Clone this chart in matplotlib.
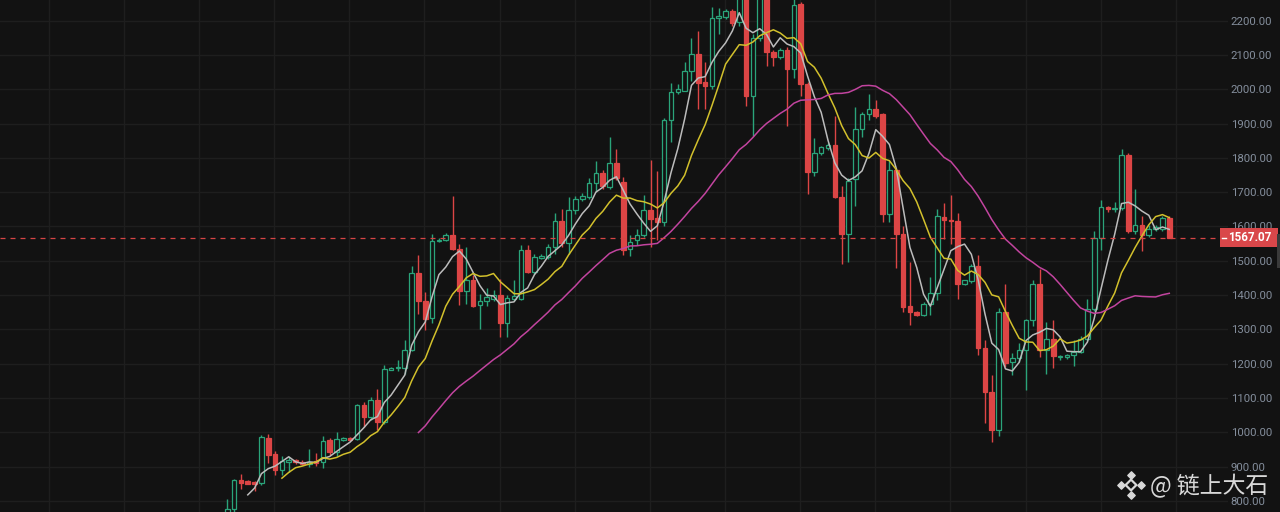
import numpy as np
import pandas as pd
import matplotlib.pyplot as plt
from matplotlib.patches import Rectangle
import matplotlib.transforms as mtransforms

# OHLC, first candle sits just below the visible range
opens = [700, 750, 775, 860, 857, 855, 851, 984, 938, 890, 912, 918, 914, 908, 915, 913, 977, 942, 978, 983,
         980, 1080, 1045, 1095, 1031, 1183, 1186, 1188, 1241, 1464, 1382, 1334, 1557, 1561, 1574, 1535, 1412, 1443, 1371, 1384,
         1390, 1400, 1318, 1390, 1390, 1532, 1467, 1509, 1511, 1540, 1615, 1553, 1649, 1681, 1687, 1726, 1755, 1716, 1784, 1729,
         1535, 1560, 1574, 1647, 1625, 1612, 1910, 1992, 1996, 2054, 2103, 2020, 2010, 2208, 2212, 2229, 2195, 2280, 1981, 2150,
         2285, 2108, 2093, 2115, 2059, 2249, 2015, 1758, 1813, 1828, 1839, 1687, 1579, 1739, 1884, 1928, 1942, 1928, 1637, 1765,
         1579, 1367, 1350, 1343, 1373, 1406, 1629, 1620, 1617, 1433, 1440, 1484, 1247, 1117, 1008, 1350, 1205, 1218, 1241, 1326,
         1433, 1241, 1273, 1219, 1220, 1224, 1234, 1273, 1360, 1567, 1656, 1650, 1653, 1807, 1586, 1603, 1574, 1592, 1593, 1625]
highs = [760, 805, 865, 877, 860, 858, 992, 996, 946, 930, 927, 922, 918, 950, 940, 988, 982, 1000, 985, 985,
         1082, 1088, 1104, 1127, 1196, 1190, 1210, 1269, 1484, 1516, 1409, 1579, 1565, 1580, 1690, 1550, 1540, 1460, 1404, 1420,
         1415, 1448, 1400, 1445, 1545, 1545, 1520, 1520, 1548, 1640, 1650, 1686, 1690, 1697, 1740, 1790, 1765, 1860, 1826, 1745,
         1575, 1594, 1693, 1794, 1762, 1915, 2017, 2015, 2080, 2150, 2171, 2079, 2241, 2237, 2235, 2235, 2300, 2300, 2161, 2300,
         2300, 2115, 2120, 2122, 2265, 2255, 2020, 1858, 1836, 1843, 1923, 1719, 1740, 1947, 1935, 1986, 1970, 1932, 1790, 1770,
         1600, 1496, 1355, 1380, 1452, 1652, 1668, 1693, 1640, 1445, 1490, 1518, 1268, 1166, 1363, 1433, 1230, 1260, 1330, 1445,
         1477, 1321, 1328, 1226, 1228, 1268, 1280, 1390, 1588, 1678, 1660, 1670, 1826, 1815, 1710, 1632, 1603, 1605, 1630, 1630]
lows = [690, 745, 765, 835, 848, 829, 845, 910, 875, 875, 885, 908, 905, 898, 902, 897, 933, 930, 976, 975,
        978, 1016, 1035, 1008, 1025, 1181, 1178, 1170, 1238, 1346, 1297, 1318, 1555, 1558, 1532, 1370, 1373, 1365, 1302, 1368,
        1384, 1278, 1278, 1384, 1385, 1465, 1462, 1505, 1505, 1520, 1540, 1520, 1635, 1675, 1680, 1700, 1710, 1710, 1735, 1517,
        1513, 1545, 1568, 1540, 1560, 1600, 1846, 1985, 1995, 2025, 1943, 1943, 2001, 2161, 2205, 2185, 2185, 1952, 1865, 2140,
        2069, 2068, 2088, 1894, 2032, 1980, 1695, 1748, 1808, 1822, 1683, 1491, 1495, 1661, 1860, 1909, 1915, 1614, 1613, 1480,
        1350, 1312, 1338, 1340, 1341, 1385, 1564, 1550, 1390, 1428, 1435, 1224, 1027, 972, 990, 1190, 1168, 1205, 1124, 1310,
        1219, 1171, 1186, 1212, 1215, 1192, 1230, 1265, 1355, 1532, 1642, 1642, 1648, 1580, 1577, 1528, 1570, 1588, 1588, 1565]
closes = [750, 775, 860, 853, 850, 849, 985, 933, 890, 917, 918, 912, 908, 913, 910, 975, 942, 980, 983, 978,
          1080, 1045, 1095, 1031, 1184, 1188, 1190, 1241, 1464, 1382, 1331, 1559, 1562, 1574, 1535, 1412, 1443, 1367, 1382, 1395,
          1400, 1318, 1392, 1396, 1532, 1467, 1511, 1514, 1540, 1615, 1553, 1649, 1681, 1690, 1726, 1755, 1718, 1784, 1742, 1530,
          1554, 1574, 1649, 1622, 1612, 1910, 1991, 2000, 2054, 2103, 2017, 2010, 2208, 2215, 2227, 2192, 2275, 1981, 2150, 2285,
          2108, 2093, 2115, 2059, 2247, 2015, 1758, 1813, 1831, 1839, 1687, 1579, 1734, 1884, 1928, 1942, 1923, 1637, 1765, 1579,
          1365, 1350, 1343, 1375, 1406, 1632, 1620, 1615, 1433, 1443, 1484, 1247, 1117, 1008, 1350, 1202, 1217, 1241, 1326, 1433,
          1241, 1273, 1221, 1222, 1225, 1234, 1273, 1360, 1567, 1656, 1650, 1654, 1807, 1586, 1603, 1574, 1593, 1598, 1625, 1567.07]
ma_periods = [5, 10, 30]
last_price = 1567.07
price_ticks = [800, 900, 1000, 1100, 1200, 1300, 1400, 1500, 1600, 1700, 1800, 1900, 2000, 2100, 2200]

bg = '#121212'
grid_c = '#1e1e1e'
up_c = '#2aa47a'
down_c = '#dc4545'
ma_colors = ['#bcbcbc', '#d2c02c', '#c2449f']

df = pd.DataFrame({'o': opens, 'h': highs, 'l': lows, 'c': closes})
df['x'] = np.arange(len(df)) - 1

fig = plt.figure(figsize=(12.8, 5.12), dpi=100, facecolor=bg)
ax = fig.add_axes([0, 0, 1228 / 1280, 1])
ax.set_facecolor(bg)
for s in ax.spines.values():
    s.set_visible(False)

# grid
ax.set_xticks(np.arange(6.85 - 11.01 * 4, 150, 11.01))
ax.set_yticks(price_ticks)
ax.grid(True, color=grid_c, lw=1.0)
ax.set_axisbelow(True)
ax.tick_params(axis='x', length=0, labelbottom=False)
ax.yaxis.tick_right()
ax.tick_params(axis='y', length=0, pad=2, labelsize=8.2, labelcolor='#848e9c')
ax.set_yticklabels(['%.2f' % v for v in price_ticks], family='Roboto')

# limits after ticks so they stay put
ax.set_xlim(-33.3, 146.6)
ax.set_ylim(767.6, 2260.3)

# candles
up = df['c'] >= df['o']
cols = np.where(up, up_c, down_c)
ax.vlines(df['x'], df['l'], df['h'], colors=cols, lw=1.0, zorder=2)
bottom = np.minimum(df['o'], df['c'])
height = np.maximum(np.abs(df['c'] - df['o']), 2.5)
faces = np.where(up, bg, down_c)
ax.bar(df['x'], height, bottom=bottom, width=0.68, color=faces, edgecolor=cols, linewidth=0.9, zorder=3)

# moving averages
for p, col in zip(ma_periods, ma_colors):
    ma = df['c'].rolling(p).mean()
    ax.plot(df['x'], ma, color=col, lw=1.1, zorder=4)

ax.axhline(last_price, color='#d64545', lw=0.9, ls=(0, (4, 4)), zorder=5)

# price tag on the scale
tr = mtransforms.blended_transform_factory(fig.transFigure, ax.transData)
tag_h = 19 / 0.343
ax.add_patch(Rectangle((1220 / 1280, last_price - tag_h / 2), 58 / 1280, tag_h, transform=tr,
                       facecolor='#d9474a', edgecolor='none', clip_on=False, zorder=6))
ax.plot([1222 / 1280, 1226 / 1280], [last_price, last_price], transform=tr, color='white',
        lw=1, clip_on=False, zorder=7)
ax.text(1250 / 1280, last_price, '%.2f' % last_price, transform=tr, ha='center', va='center',
        color='white', fontsize=8.4, family='Roboto', fontweight='bold', zorder=7, clip_on=False)
ax.add_patch(Rectangle((1277 / 1280, last_price - 30 / 0.343), 3 / 1280, 34 / 0.343, transform=tr,
                       facecolor='#3a3a3a', edgecolor='none', clip_on=False, zorder=6))

# watermark
fig.text(1150 / 1280, 1 - 486 / 512, '@ 链上大石', fontsize=16.5, color='#d8d8d8',
         family=['Noto Sans CJK SC', 'DejaVu Sans'], va='center', ha='left')
lax = fig.add_axes([1117 / 1280, 1 - 499 / 512, 28 / 1280, 28 / 512])
lax.set_xlim(-1, 1)
lax.set_ylim(-1, 1)
lax.axis('off')
lax.scatter([0], [0], marker='D', s=30, facecolor='none', edgecolor='#d8d8d8', linewidth=1.6)
lax.scatter([-0.72, 0.72, 0, 0], [0, 0, 0.72, -0.72], marker='D', s=14, color='#d8d8d8')

fig.savefig('out.png', dpi=100, facecolor=bg)
